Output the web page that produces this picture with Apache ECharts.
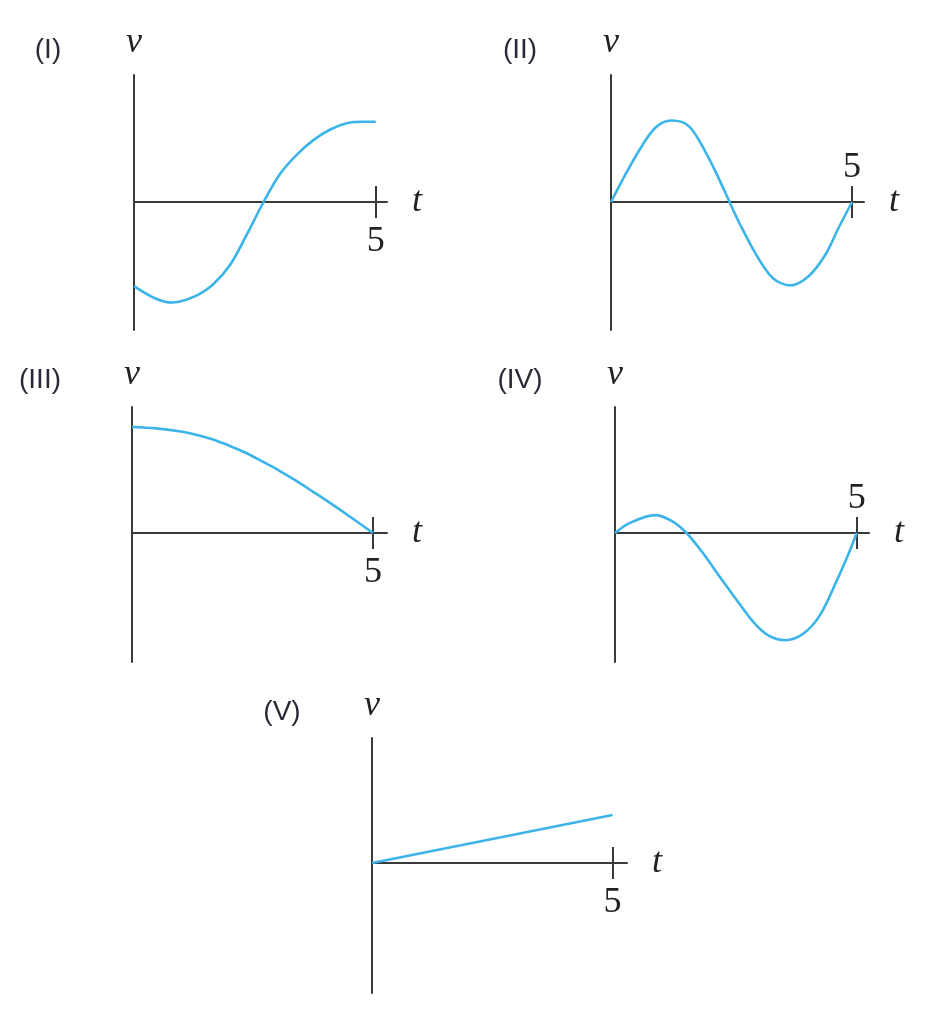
<!DOCTYPE html>
<html><head><meta charset="utf-8">
<script src="https://cdn.jsdelivr.net/npm/echarts@6/dist/echarts.min.js"></script>
<style>html,body{margin:0;padding:0;background:#fff}#c{width:940px;height:1024px}</style>
</head><body><div id="c"></div>
<script>
// ---- data ----
const panelNames = ['(I)', '(II)', '(III)', '(IV)', '(V)'];
const tickValues = [5];
const axisNameT = 't';
const axisNameV = 'v';

const tI = [0, 0.43, 0.78, 0.95, 1.30, 1.64, 1.99, 2.33, 2.68, 3.02, 3.37, 3.71, 4.06, 4.40, 4.75, 5];
const vI = [-1.74, -1.99, -2.08, -2.06, -1.93, -1.70, -1.30, -0.68, 0, 0.58, 0.98, 1.28, 1.50, 1.63, 1.66, 1.66];

const tII = [0, 0.24, 0.59, 0.93, 1.26, 1.62, 1.97, 2.24, 2.46, 2.66, 3.0, 3.35, 3.72, 4.10, 4.45, 4.72, 5];
const vII = [0, 0.46, 1.08, 1.55, 1.69, 1.57, 1.02, 0.48, 0, -0.43, -1.07, -1.57, -1.73, -1.54, -1.09, -0.54, 0];

const tIII = [0, 0.5, 0.98, 1.33, 1.68, 2.02, 2.37, 2.71, 3.06, 3.41, 3.75, 4.10, 4.45, 4.79, 5];
const vIII = [2.20, 2.17, 2.11, 2.04, 1.94, 1.81, 1.66, 1.48, 1.29, 1.08, 0.86, 0.63, 0.39, 0.15, 0];

const tIV = [0, 0.31, 0.83, 1.17, 1.48, 1.83, 2.17, 2.52, 2.86, 3.17, 3.52, 3.90, 4.24, 4.59, 4.86, 5];
const vIV = [0, 0.21, 0.37, 0.25, 0, -0.43, -0.91, -1.39, -1.84, -2.12, -2.22, -2.08, -1.70, -0.98, -0.36, 0];

const tV = [0, 5];
const vV = [0, 1.0];

// ---- layout (pixels) ----
const panels = [
  {t: tI,   v: vI,   smooth: true,  ox: 134, oy: 202, top: 75,  bottom: 330, xEnd: 387, px: 48.34, labelUp: false, nx: 48,  ny: 50},
  {t: tII,  v: vII,  smooth: true,  ox: 611, oy: 202, top: 75,  bottom: 330, xEnd: 864, px: 48.2,  labelUp: true,  nx: 520, ny: 50},
  {t: tIII, v: vIII, smooth: true,  ox: 132, oy: 533, top: 407, bottom: 662, xEnd: 387, px: 48.2,  labelUp: false, nx: 40,  ny: 380},
  {t: tIV,  v: vIV,  smooth: true,  ox: 615, oy: 533, top: 407, bottom: 662, xEnd: 869, px: 48.34, labelUp: true,  nx: 520, ny: 380},
  {t: tV,   v: vV,   smooth: false, ox: 372, oy: 863, top: 738, bottom: 993, xEnd: 627, px: 48.1,  labelUp: false, nx: 282, ny: 712}
];

const axisColor = '#3a3a3a';
const curveColor = '#3bb4ea';
const serif = '"Liberation Serif", "DejaVu Serif", serif';

const grids = [], xAxes = [], yAxes = [], series = [], graphics = [];
panels.forEach((p, i) => {
  grids.push({left: p.ox, top: p.top, width: p.xEnd - p.ox, height: p.bottom - p.top, outerBoundsMode: 'none', containLabel: false});
  const xmax = (p.xEnd - p.ox) / p.px;
  const off = -(p.bottom - p.oy);
  // main x axis at v = 0: line, downward half of tick, label, name
  xAxes.push({
    type: 'value', gridIndex: i, min: 0, max: xmax, position: 'bottom', offset: off,
    axisLine: {show: true, onZero: false, lineStyle: {color: axisColor, width: 2}},
    axisTick: {show: true, inside: false, length: 16, customValues: tickValues, lineStyle: {color: axisColor, width: 2}},
    axisLabel: {show: true, inside: p.labelUp, margin: p.labelUp ? 16 : 22, customValues: tickValues,
      fontFamily: serif, fontSize: 36, color: '#222'},
    splitLine: {show: false},
    name: axisNameT, nameLocation: 'end', nameGap: 25,
    nameTextStyle: {fontFamily: serif, fontStyle: 'italic', fontSize: 36, color: '#222', verticalAlign: 'middle'}
  });
  // companion x axis at v = 0: upward half of the crossing tick
  xAxes.push({
    type: 'value', gridIndex: i, min: 0, max: xmax, position: 'bottom', offset: off,
    axisLine: {show: false, onZero: false},
    axisTick: {show: true, inside: true, length: 16, customValues: tickValues, lineStyle: {color: axisColor, width: 2}},
    axisLabel: {show: false},
    splitLine: {show: false}
  });
  yAxes.push({
    type: 'value', gridIndex: i,
    min: -(p.bottom - p.oy) / p.px, max: (p.oy - p.top) / p.px,
    axisLine: {show: true, onZero: false, lineStyle: {color: axisColor, width: 2}},
    axisTick: {show: false}, axisLabel: {show: false}, splitLine: {show: false},
    name: axisNameV, nameLocation: 'end', nameGap: 14,
    nameTextStyle: {fontFamily: serif, fontStyle: 'italic', fontSize: 36, color: '#222'}
  });
  series.push({
    type: 'line', xAxisIndex: 2 * i, yAxisIndex: i,
    data: p.t.map((t, k) => [t, p.v[k]]),
    smooth: p.smooth ? 0.33 : false, symbol: 'none', silent: true,
    lineStyle: {color: curveColor, width: 2.6}
  });
  graphics.push({
    type: 'text', x: p.nx, y: p.ny,
    style: {text: panelNames[i], fill: '#2b2b38', font: '28px "Liberation Sans", Arial, sans-serif', align: 'center', verticalAlign: 'middle'}
  });
});

const chart = echarts.init(document.getElementById('c'), null, {renderer: 'canvas'});
chart.setOption({
  animation: false,
  backgroundColor: '#fff',
  grid: grids, xAxis: xAxes, yAxis: yAxes, series: series,
  graphic: graphics
});
</script>
</body></html>
